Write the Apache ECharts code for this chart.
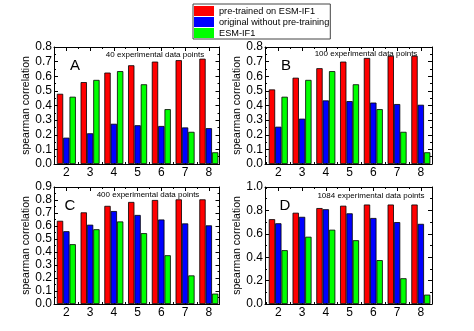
<!DOCTYPE html>
<html>
<head>
<meta charset="utf-8">
<script src="https://cdn.jsdelivr.net/npm/echarts@6/dist/echarts.min.js"></script>
<style>
  html, body { margin: 0; padding: 0; background: #fff; }
  #chart { width: 474px; height: 331px; }
</style>
</head>
<body>
<div id="chart"></div>
<script>
// Number of mutations per variant (x positions)
const categories = [2, 3, 4, 5, 6, 7, 8];

// Series names
const seriesNames = ['pre-trained on ESM-IF1', 'original without pre-training', 'ESM-IF1'];

// Spearman correlation, ESM-IF1 zero-shot (same in every panel)
const esmIf1 = [0.46, 0.575, 0.635, 0.545, 0.375, 0.22, 0.08];

// 40 experimental data points
const pretrained40 = [0.48, 0.56, 0.625, 0.675, 0.70, 0.71, 0.72];
const original40 = [0.18, 0.21, 0.275, 0.265, 0.26, 0.25, 0.245];

// 100 experimental data points
const pretrained100 = [0.51, 0.59, 0.655, 0.70, 0.725, 0.74, 0.74];
const original100 = [0.255, 0.31, 0.435, 0.43, 0.42, 0.41, 0.405];

// 400 experimental data points
const pretrained400 = [0.64, 0.705, 0.755, 0.785, 0.80, 0.805, 0.805];
const original400 = [0.56, 0.61, 0.715, 0.685, 0.65, 0.62, 0.605];

// 1084 experimental data points
const pretrained1084 = [0.725, 0.78, 0.82, 0.84, 0.85, 0.85, 0.85];
const original1084 = [0.69, 0.745, 0.81, 0.775, 0.735, 0.70, 0.685];

// Panel letters, annotations and axis ranges
const panelLetters = ['A', 'B', 'C', 'D'];
const panelNotes = ['40 experimental data points', '100 experimental data points',
                    '400 experimental data points', '1084 experimental data points'];
const yMax = [0.8, 0.8, 0.9, 1.0];
const yInterval = [0.1, 0.1, 0.1, 0.2];
const xMin = [1.48, 1.44, 1.48, 1.44];
const xMax = [8.45, 8.47, 8.45, 8.47];
const minorX = [1.5, 2.5, 3.5, 4.5, 5.5, 6.5, 7.5];

const panels = [
  [pretrained40, original40, esmIf1],
  [pretrained100, original100, esmIf1],
  [pretrained400, original400, esmIf1],
  [pretrained1084, original1084, esmIf1]
];

const colors = ['#ff0000', '#0000ff', '#00ff00'];
const FONT = '"Liberation Sans", Arial, sans-serif';

// Plot-area rectangles of the four panels
const grids = [
  { left: 54, top: 47, width: 165.5, height: 117 },
  { left: 265, top: 47, width: 167, height: 117 },
  { left: 54, top: 187, width: 165.5, height: 117 },
  { left: 265, top: 187, width: 167, height: 117 }
];

// Letter and note positions inside each panel
const letterPos = [[75, 66], [286, 66], [70, 206], [285, 206]];
const notePos = [[155, 55], [366, 54], [148, 195], [371, 196]];

const xAxes = [];
const yAxes = [];
const series = [];
const graphics = [];

const black = { color: '#000', width: 1 };

panels.forEach((vals, g) => {
  const xBase = {
    gridIndex: g, type: 'value', min: xMin[g], max: xMax[g],
    splitLine: { show: false }
  };
  // bottom axis with labels
  xAxes.push(Object.assign({}, xBase, {
    position: 'bottom',
    axisLine: { onZero: false, lineStyle: black },
    axisTick: { inside: true, length: 4, lineStyle: black, customValues: categories },
    axisLabel: { fontSize: 12, color: '#000', margin: 3, fontFamily: FONT,
                 customValues: categories }
  }));
  // top mirror axis
  xAxes.push(Object.assign({}, xBase, {
    position: 'top',
    axisLine: { onZero: false, lineStyle: black },
    axisTick: { inside: true, length: 4, lineStyle: black, customValues: categories },
    axisLabel: { show: false }
  }));
  // minor ticks between categories (bottom and top)
  ['bottom', 'top'].forEach(pos => {
    xAxes.push(Object.assign({}, xBase, {
      position: pos,
      axisLine: { show: false, onZero: false },
      axisTick: { inside: true, length: 2, lineStyle: black, customValues: minorX },
      axisLabel: { show: false }
    }));
  });

  yAxes.push({
    gridIndex: g, type: 'value', position: 'left', min: 0, max: yMax[g], interval: yInterval[g],
    axisLine: { show: true, onZero: false, lineStyle: black },
    axisTick: { show: true, inside: true, length: 4, lineStyle: black },
    minorTick: { show: true, splitNumber: 2, length: 2, lineStyle: black },
    splitLine: { show: false },
    axisLabel: { fontSize: 12, color: '#000', margin: 2, fontFamily: FONT,
                 formatter: v => v.toFixed(1) },
    name: 'spearman correlation', nameLocation: 'middle', nameGap: 15,
    nameTextStyle: { fontSize: 10.5, color: '#000', fontFamily: FONT }
  });
  yAxes.push({
    gridIndex: g, type: 'value', position: 'right', min: 0, max: yMax[g], interval: yInterval[g],
    axisLine: { show: true, onZero: false, lineStyle: black },
    axisTick: { show: true, inside: true, length: 4, lineStyle: black },
    minorTick: { show: true, splitNumber: 2, length: 2, lineStyle: black },
    splitLine: { show: false },
    axisLabel: { show: false }
  });

  vals.forEach((arr, s) => {
    series.push({
      type: 'bar', name: seriesNames[s],
      data: categories.map((c, i) => [c, arr[i]]),
      xAxisIndex: g * 4, yAxisIndex: g * 2,
      barWidth: 6.33, barGap: '0%',
      itemStyle: { color: colors[s], borderColor: '#000', borderWidth: 0.8 },
      emphasis: { disabled: true },
      animation: false
    });
  });

  graphics.push({
    type: 'text', x: letterPos[g][0], y: letterPos[g][1],
    style: { text: panelLetters[g], font: '15px ' + FONT, fill: '#000',
             textAlign: 'center', textVerticalAlign: 'middle' }
  });
  graphics.push({
    type: 'text', x: notePos[g][0], y: notePos[g][1],
    style: { text: panelNotes[g], font: '8px ' + FONT, fill: '#000',
             textAlign: 'center', textVerticalAlign: 'middle' }
  });
});

const chart = echarts.init(document.getElementById('chart'), null, { renderer: 'canvas' });
chart.setOption({
  animation: false,
  backgroundColor: '#fff',
  textStyle: { fontFamily: FONT },
  grid: grids,
  xAxis: xAxes,
  yAxis: yAxes,
  legend: {
    data: seriesNames,
    orient: 'vertical',
    left: 193, top: 4,
    itemWidth: 20, itemHeight: 10, itemGap: 1,
    padding: [2, 1, 1, 1],
    borderColor: '#444', borderWidth: 1,
    icon: 'rect',
    itemStyle: { borderWidth: 0 },
    textStyle: { fontSize: 9.2, color: '#000', fontFamily: FONT },
    selectedMode: false
  },
  graphic: graphics,
  series: series
});
</script>
</body>
</html>
